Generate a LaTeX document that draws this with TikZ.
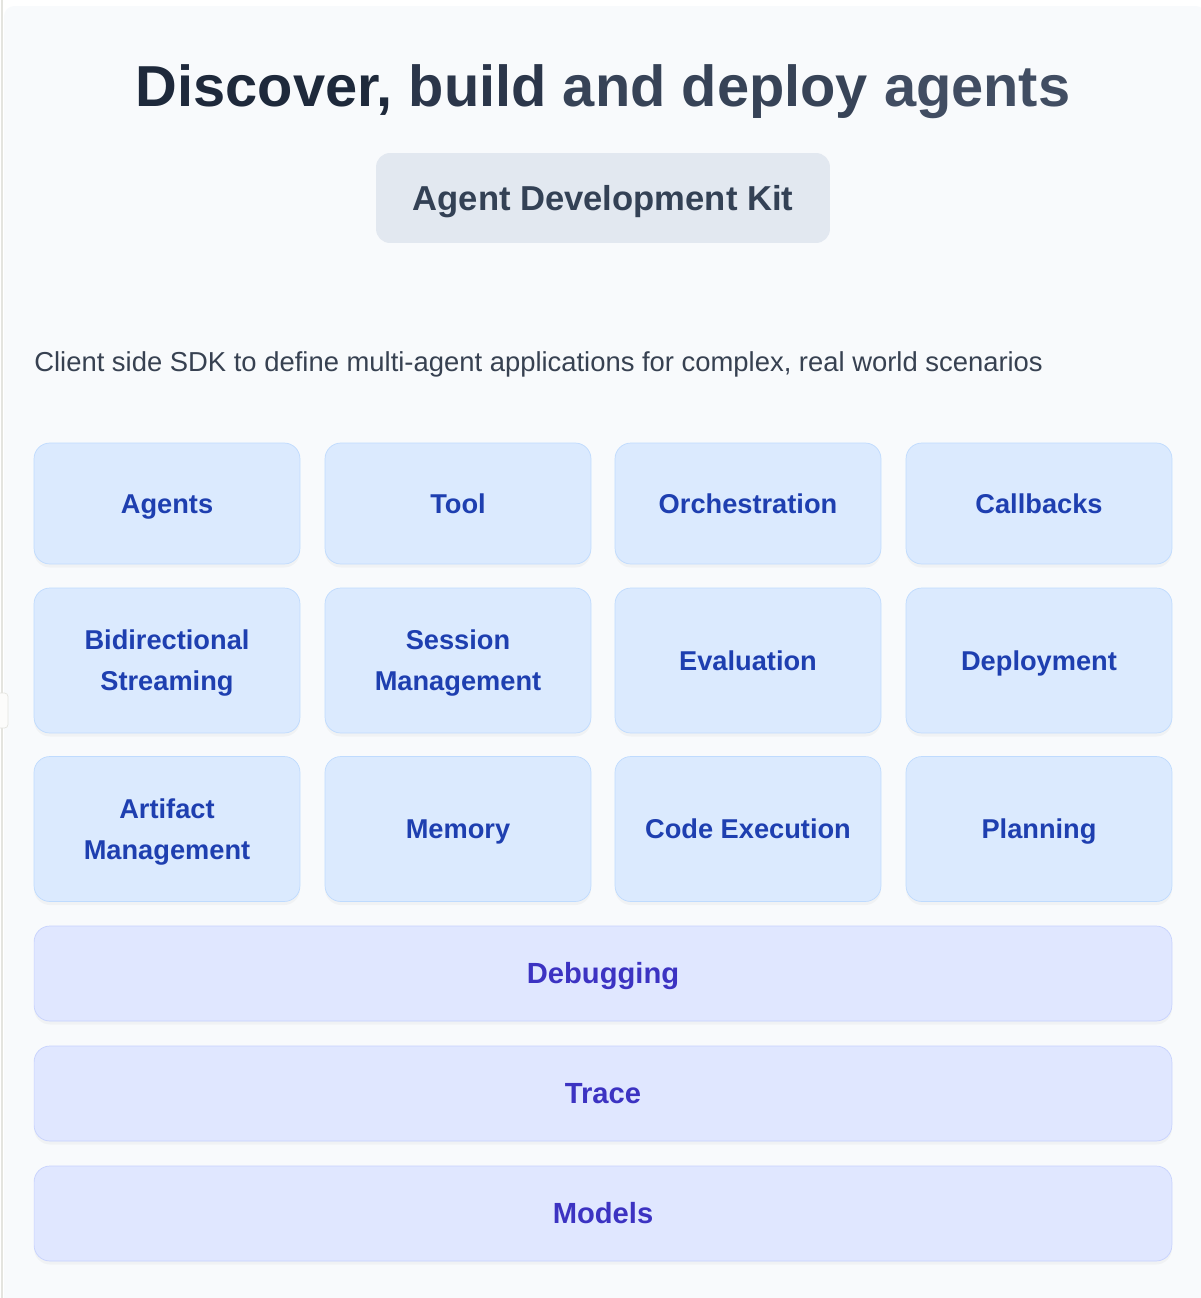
\documentclass[tikz,border=0pt]{standalone}
\usepackage{fontspec}
\setmainfont{Liberation Sans}
\usepackage{tikz}
\usetikzlibrary{positioning,shadows}
\definecolor{PanelBg}{HTML}{F8FAFC}
\definecolor{EdgeGrey}{HTML}{E4E4DF}
\definecolor{TitleA}{HTML}{1E293B}
\definecolor{TitleB}{HTML}{2B364A}
\definecolor{TitleC}{HTML}{374357}
\definecolor{TitleD}{HTML}{414D62}
\definecolor{KitFill}{HTML}{E2E8F0}
\definecolor{KitText}{HTML}{334155}
\definecolor{IntroText}{HTML}{374151}
\definecolor{FeatFill}{HTML}{DBEAFE}
\definecolor{FeatLine}{HTML}{BFDBFE}
\definecolor{FeatText}{HTML}{1E3FB0}
\definecolor{LayerFill}{HTML}{E0E7FF}
\definecolor{LayerLine}{HTML}{C7D2FE}
\definecolor{LayerText}{HTML}{3C33C2}

\begin{document}
\begin{tikzpicture}[
  x=0.02cm, y=-0.02cm,
  titletext/.style={
    font=\fontsize{32.9}{38}\selectfont\bfseries, anchor=base, inner sep=0pt
  },
  kitbox/.style={
    rectangle, fill=KitFill, rounded corners=8pt,
    minimum width=9.08cm, minimum height=1.80cm, align=center,
    text height=14.1pt, text depth=0pt,
    font=\fontsize{19.7}{24}\selectfont\bfseries, text=KitText
  },
  introtext/.style={
    anchor=base west, inner sep=0pt, text=IntroText,
    font=\fontsize{15.6}{18}\selectfont
  },
  featbox/.style={
    rectangle, draw=FeatLine, fill=FeatFill, rounded corners=9pt,
    minimum width=5.32cm, align=center, text=FeatText,
    text height=11.1pt, text depth=0pt,
    font=\fontsize{15.5}{23.3}\selectfont\bfseries,
    drop shadow={opacity=0.06, shadow xshift=0pt, shadow yshift=-2pt}
  },
  layerbox/.style={
    rectangle, draw=LayerLine, fill=LayerFill, rounded corners=9pt,
    minimum width=22.76cm, minimum height=1.90cm, align=center,
    text height=11.9pt, text depth=0pt,
    text=LayerText, font=\fontsize{16.6}{20}\selectfont\bfseries,
    drop shadow={opacity=0.06, shadow xshift=0pt, shadow yshift=-2pt}
  },
  rowone/.style={minimum height=2.42cm},
  rowtwo/.style={minimum height=2.90cm},
  twolines/.style={text height=34.4pt}
]

% --- page, panel and the browser edge
\useasboundingbox (0,0) rectangle (1200,1298);
\fill[white] (0,0) rectangle (1200,1298);
\fill[PanelBg, rounded corners=6pt] (4,6) rectangle (1206,1310);
\draw[EdgeGrey, line width=1.2pt] (2,0) -- (2,1298);
\draw[EdgeGrey, fill=white!60!EdgeGrey!30, rounded corners=2pt] (-4,693) rectangle (8,728);

% --- heading
\node[titletext] (title) at (603,106)
  {\textcolor{TitleA}{Discover,} \textcolor{TitleB}{build} \textcolor{TitleC}{and} \textcolor{TitleC}{deploy} \textcolor{TitleD}{agents}};
\node[kitbox] (adk) at (603,198) {Agent Development Kit};
\node[introtext] (intro) at (34,371)
  {Client side SDK to define multi-agent applications for complex, real world scenarios};

% --- feature grid, first row
\node[featbox, rowone] (agents)    at (167,503.5)  {Agents};
\node[featbox, rowone] (tool)      at (458,503.5)  {Tool};
\node[featbox, rowone] (orch)      at (748,503.5)  {Orchestration};
\node[featbox, rowone] (callbacks) at (1039,503.5) {Callbacks};

% --- second row
\node[featbox, rowtwo, twolines] (bidi)    at (167,660.5) {Bidirectional\\Streaming};
\node[featbox, rowtwo, twolines] (session) at (458,660.5) {Session\\Management};
\node[featbox, rowtwo] (evaluation) at (748,660.5)  {Evaluation};
\node[featbox, rowtwo] (deploy)     at (1039,660.5) {Deployment};

% --- third row
\node[featbox, rowtwo, twolines] (artifact) at (167,829) {Artifact\\Management};
\node[featbox, rowtwo] (memory)   at (458,829)  {Memory};
\node[featbox, rowtwo] (codeexec) at (748,829)  {Code Execution};
\node[featbox, rowtwo] (planning) at (1039,829) {Planning};

% --- full width layers
\node[layerbox] (debugging) at (603,973.5)  {Debugging};
\node[layerbox] (trace)     at (603,1093.5) {Trace};
\node[layerbox] (models)    at (603,1213.5) {Models};

\end{tikzpicture}
\end{document}
